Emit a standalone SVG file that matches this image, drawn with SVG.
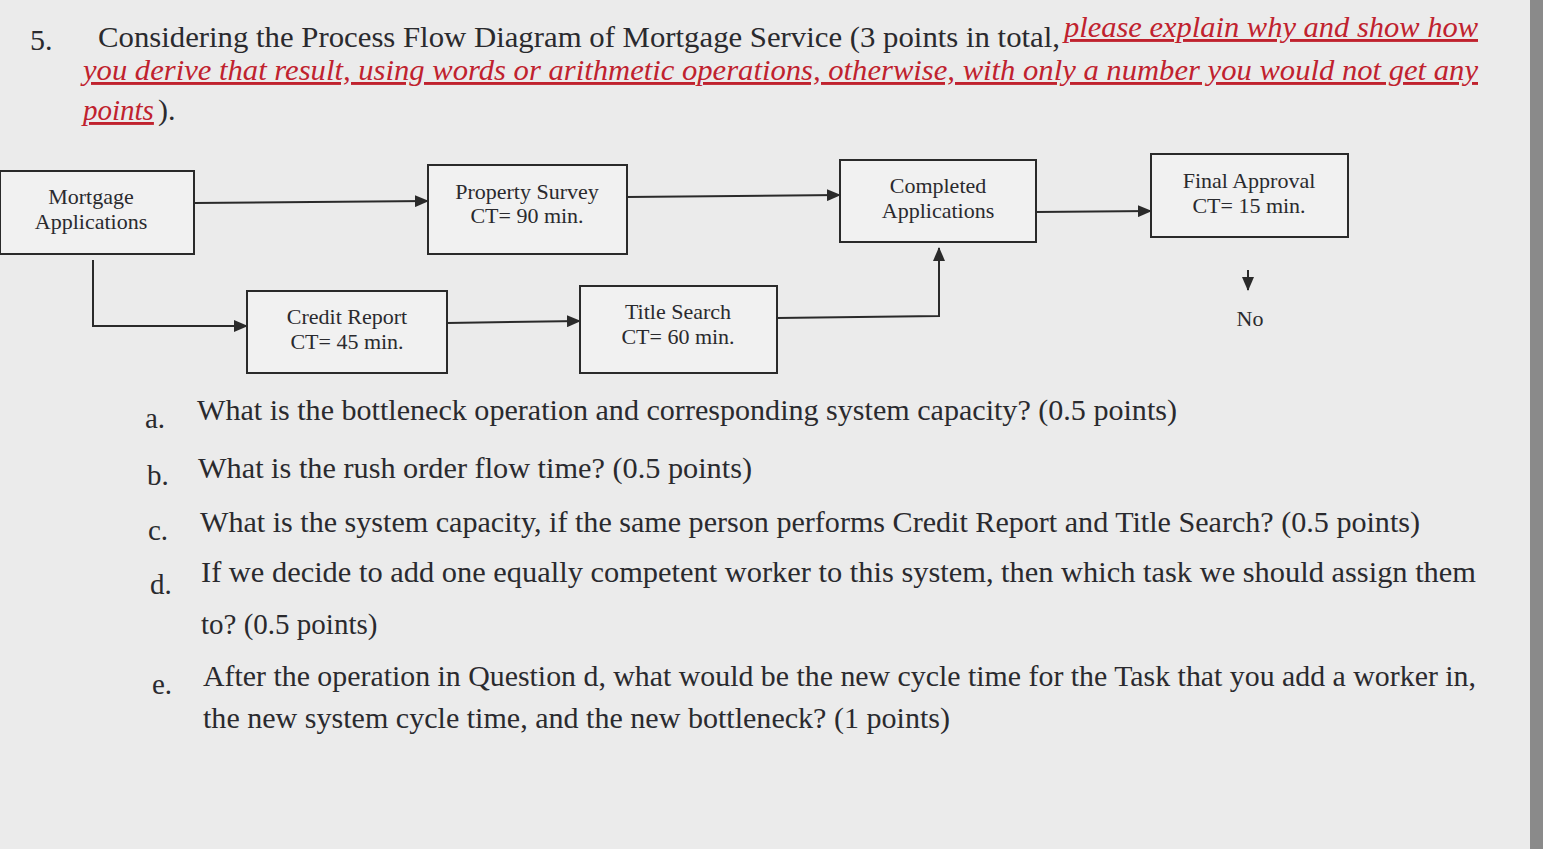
<svg xmlns="http://www.w3.org/2000/svg" width="1543" height="849" viewBox="0 0 1543 849">
<defs>
<style>
.t{font-family:"Liberation Serif",serif;fill:#2a2a2e}
.h{font-size:30px}
.r{font-size:29px;fill:#c0222e;font-style:italic;text-decoration:underline}
.b{font-size:22px;text-anchor:middle}
.q{font-size:29px}
.box{fill:#f1f1f1;stroke:#2a2a2a;stroke-width:2}
.c{fill:none;stroke:#2a2a2a;stroke-width:2}
</style>
<marker id="a" markerWidth="14" markerHeight="12" refX="13" refY="6" orient="auto" markerUnits="userSpaceOnUse"><path d="M0,0 L14,6 L0,12 Z" fill="#2a2a2a"/></marker>
</defs>
<rect width="1543" height="849" fill="#ebebeb"/>
<rect x="1530" y="0" width="13" height="849" fill="#8a8a8a"/>
<g id="header">
<text class="t h" x="30" y="50">5.</text>
<text class="t h" x="98" y="47" textLength="962" lengthAdjust="spacingAndGlyphs">Considering the Process Flow Diagram of Mortgage Service (3 points in total,</text>
<text class="t r" x="1064" y="37" textLength="414" lengthAdjust="spacingAndGlyphs">please explain why and show how</text>
<text class="t r" x="83" y="80" textLength="1395" lengthAdjust="spacingAndGlyphs">you derive that result, using words or arithmetic operations, otherwise, with only a number you would not get any</text>
<text class="t r" x="83" y="120">points</text><text class="t h" x="158" y="120">).</text>
</g>
<g id="connectors">
<path class="c" d="M194,203 L428,201" marker-end="url(#a)"/>
<path class="c" d="M627,197 L840,195" marker-end="url(#a)"/>
<path class="c" d="M1036,212 L1151,211" marker-end="url(#a)"/>
<path class="c" d="M93,260 L93,326 L247,326" marker-end="url(#a)"/>
<path class="c" d="M447,323 L580,321" marker-end="url(#a)"/>
<path class="c" d="M777,318 L939,316 L939,248" marker-end="url(#a)"/>
<path class="c" d="M1248,270 L1248,290" marker-end="url(#a)"/>
</g>
<g id="mortgage"><rect class="box" x="0" y="171" width="194" height="83"/><text class="t b" x="91" y="204">Mortgage</text><text class="t b" x="91" y="229">Applications</text></g>
<g id="survey"><rect class="box" x="428" y="165" width="199" height="89"/><text class="t b" x="527" y="199">Property Survey</text><text class="t b" x="527" y="223">CT= 90 min.</text></g>
<g id="completed"><rect class="box" x="840" y="160" width="196" height="82"/><text class="t b" x="938" y="193">Completed</text><text class="t b" x="938" y="218">Applications</text></g>
<g id="final"><rect class="box" x="1151" y="154" width="197" height="83"/><text class="t b" x="1249" y="188">Final Approval</text><text class="t b" x="1249" y="213">CT= 15 min.</text></g>
<g id="credit"><rect class="box" x="247" y="291" width="200" height="82"/><text class="t b" x="347" y="324">Credit Report</text><text class="t b" x="347" y="349">CT= 45 min.</text></g>
<g id="title"><rect class="box" x="580" y="286" width="197" height="87"/><text class="t b" x="678" y="319">Title Search</text><text class="t b" x="678" y="344">CT= 60 min.</text></g>
<g id="no"><text class="t b" x="1250" y="326">No</text></g>
<g id="questions">
<text class="t q" x="145" y="428">a.</text><text class="t q" x="197" y="420" textLength="980" lengthAdjust="spacingAndGlyphs">What is the bottleneck operation and corresponding system capacity? (0.5 points)</text>
<text class="t q" x="147" y="485">b.</text><text class="t q" x="198" y="478" textLength="554" lengthAdjust="spacingAndGlyphs">What is the rush order flow time? (0.5 points)</text>
<text class="t q" x="148" y="540">c.</text><text class="t q" x="200" y="532" textLength="1220" lengthAdjust="spacingAndGlyphs">What is the system capacity, if the same person performs Credit Report and Title Search? (0.5 points)</text>
<text class="t q" x="150" y="594">d.</text><text class="t q" x="201" y="582" textLength="1275" lengthAdjust="spacingAndGlyphs">If we decide to add one equally competent worker to this system, then which task we should assign them</text>
<text class="t q" x="201" y="634">to? (0.5 points)</text>
<text class="t q" x="152" y="694">e.</text><text class="t q" x="203" y="686" textLength="1273" lengthAdjust="spacingAndGlyphs">After the operation in Question d, what would be the new cycle time for the Task that you add a worker in,</text>
<text class="t q" x="203" y="728" textLength="747" lengthAdjust="spacingAndGlyphs">the new system cycle time, and the new bottleneck? (1 points)</text>
</g>
</svg>
